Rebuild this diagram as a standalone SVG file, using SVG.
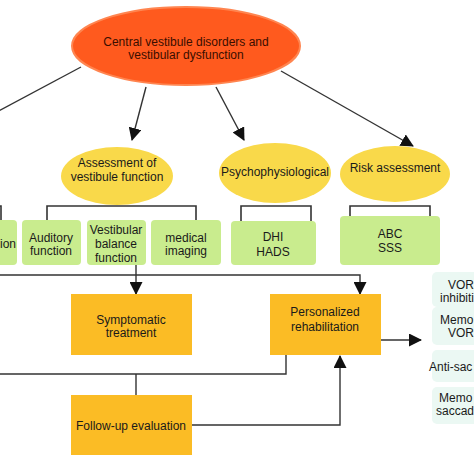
<svg xmlns="http://www.w3.org/2000/svg" width="474" height="474" viewBox="0 0 474 474">
<style>
text{font-family:"Liberation Sans",Arial,sans-serif;font-size:12px;fill:#1a1a1a;text-anchor:middle}
.top{fill:#ff5a1e;stroke:#ff8550;stroke-width:2}
.yel{fill:#f9d94a}
.grn{fill:#c9ec8e}
.amb{fill:#fbbc25}
.mint{fill:#ebf8f3}
.ln{fill:none;stroke:#333;stroke-width:1.4}
.br{fill:none;stroke:#333;stroke-width:1.6}
</style>
<defs>
<marker id="ah" markerUnits="userSpaceOnUse" markerWidth="13" markerHeight="13" viewBox="0 0 13 13" refX="12" refY="6.5" orient="auto">
<path d="M0,0 L13,6.5 L0,13 Z" fill="#111"/>
</marker>
</defs>
<rect width="474" height="474" fill="#fff"/>

<g id="connectors">
<path class="ln" d="M81,67 L-5,113"/>
<path class="ln" d="M146,87 L132,140" marker-end="url(#ah)"/>
<path class="ln" d="M216,87 L244,140" marker-end="url(#ah)"/>
<path class="ln" d="M281,71 L413,146" marker-end="url(#ah)"/>
<path class="br" d="M-10,206 H1 V220"/>
<path class="br" d="M47,220 V206 H196 V220"/>
<path class="br" d="M241,221 V206 H311 V221"/>
<path class="br" d="M350,216 V206 H430 V216"/>
<path class="ln" d="M0,275 H360 V294" marker-end="url(#ah)"/>
<path class="ln" d="M136,265 V294" marker-end="url(#ah)"/>
<path class="ln" d="M286,355 V374 H0"/>
<path class="ln" d="M136,374 V395"/>
<path class="ln" d="M192,425 H340 V356" marker-end="url(#ah)"/>
<path class="ln" d="M381,340 H421" marker-end="url(#ah)"/>
</g>

<g id="central">
<ellipse class="top" cx="186" cy="46" rx="114" ry="39"/>
<text x="186" y="46" style="fill:#3a0e00">Central vestibule disorders and</text>
<text x="186" y="59" style="fill:#3a0e00">vestibular dysfunction</text>
</g>

<g id="assessment">
<ellipse class="yel" cx="117" cy="176" rx="56" ry="29"/>
<text x="117" y="167">Assessment of</text>
<text x="117" y="181">vestibule function</text>
</g>
<g id="psycho">
<ellipse class="yel" cx="275" cy="173" rx="56" ry="30"/>
<text x="275" y="176">Psychophysiological</text>
</g>
<g id="risk">
<ellipse class="yel" cx="395" cy="174" rx="55" ry="28"/>
<text x="395" y="172">Risk assessment</text>
</g>

<g id="left-box">
<rect class="grn" x="-10" y="220" width="27" height="45" rx="4"/>
<text x="16" y="248" style="text-anchor:end">ion</text>
</g>
<g id="auditory">
<rect class="grn" x="22" y="220" width="59" height="45" rx="4"/>
<text x="51" y="242">Auditory</text>
<text x="51" y="255">function</text>
</g>
<g id="vestibular">
<rect class="grn" x="87" y="220" width="59" height="45" rx="4"/>
<text x="116" y="234">Vestibular</text>
<text x="116" y="248">balance</text>
<text x="116" y="262">function</text>
</g>
<g id="imaging">
<rect class="grn" x="151" y="220" width="70" height="45" rx="4"/>
<text x="186" y="242">medical</text>
<text x="186" y="255">imaging</text>
</g>
<g id="dhi">
<rect class="grn" x="231" y="221" width="85" height="44" rx="4"/>
<text x="273" y="241">DHI</text>
<text x="273" y="256">HADS</text>
</g>
<g id="abc">
<rect class="grn" x="340" y="216" width="100" height="49" rx="4"/>
<text x="390" y="238">ABC</text>
<text x="390" y="252">SSS</text>
</g>

<g id="symptomatic">
<rect class="amb" x="71" y="294" width="121" height="61"/>
<text x="131" y="324">Symptomatic</text>
<text x="131" y="337">treatment</text>
</g>
<g id="personalized">
<rect class="amb" x="270" y="294" width="111" height="61"/>
<text x="325" y="316">Personalized</text>
<text x="325" y="331">rehabilitation</text>
</g>
<g id="followup">
<rect class="amb" x="71" y="395" width="121" height="60"/>
<text x="131" y="430">Follow-up evaluation</text>
</g>

<g id="vor-inhibition">
<rect class="mint" x="432" y="272" width="60" height="35" rx="5"/>
<text x="448" y="289" style="text-anchor:start">VOR</text>
<text x="440" y="302" style="text-anchor:start">inhibiti</text>
</g>
<g id="memory-vor">
<rect class="mint" x="432" y="307" width="60" height="38" rx="5"/>
<text x="440" y="324" style="text-anchor:start">Memo</text>
<text x="448" y="337" style="text-anchor:start">VOR</text>
</g>
<g id="anti-saccade">
<rect class="mint" x="432" y="350" width="60" height="32" rx="5"/>
<text x="429" y="371" style="text-anchor:start">Anti-sac</text>
</g>
<g id="memory-saccade">
<rect class="mint" x="432" y="387" width="60" height="37" rx="5"/>
<text x="439" y="402" style="text-anchor:start">Memo</text>
<text x="436" y="415" style="text-anchor:start">saccad</text>
</g>
</svg>
